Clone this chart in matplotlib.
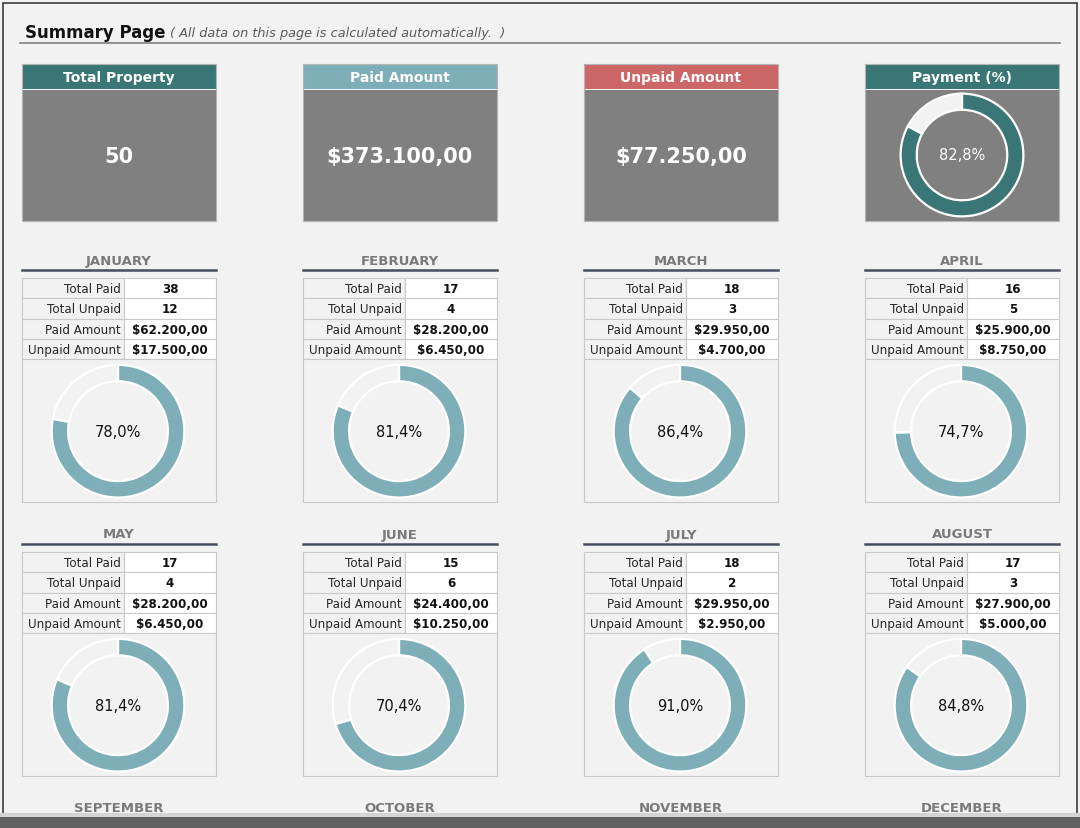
import matplotlib.pyplot as plt
from matplotlib.patches import Rectangle

W, H = 1080, 829

# ---- data ----
kpi_titles = ["Total Property", "Paid Amount", "Unpaid Amount", "Payment (%)"]
kpi_values = ["50", "$373.100,00", "$77.250,00"]
payment_pct = 82.8

months = ["JANUARY", "FEBRUARY", "MARCH", "APRIL",
          "MAY", "JUNE", "JULY", "AUGUST"]
total_paid = [38, 17, 18, 16, 17, 15, 18, 17]
total_unpaid = [12, 4, 3, 5, 4, 6, 2, 3]
paid_amount = [62200, 28200, 29950, 25900, 28200, 24400, 29950, 27900]
unpaid_amount = [17500, 6450, 4700, 8750, 6450, 10250, 2950, 5000]
paid_pct = [78.0, 81.4, 86.4, 74.7, 81.4, 70.4, 91.0, 84.8]
later_months = ["SEPTEMBER", "OCTOBER", "NOVEMBER", "DECEMBER"]

row_labels = ["Total Paid", "Total Unpaid", "Paid Amount", "Unpaid Amount"]

BG = "#f2f2f2"
DARK_TEAL = "#3b7676"
LIGHT_TEAL = "#7eafb8"
RED = "#cd6667"
CARD_GRAY = "#808080"
GRID = "#c9c9c9"

plt.rcParams['font.family'] = ['DejaVu Sans']


def money(v):
    s = f"{v:,.2f}"
    s = s.replace(",", "X").replace(".", ",").replace("X", ".")
    return "$" + s


def px_axes(fig, cx, cy, r):
    return fig.add_axes([(cx - r) / W, 1 - (cy + r) / H, 2 * r / W, 2 * r / H])


def donut(fig, cx, cy, r, pct, color, rest, ring, txt, txt_color, fs):
    a = px_axes(fig, cx, cy, r)
    a.pie([pct, 100 - pct], colors=[color, rest], startangle=90, counterclock=False,
          radius=0.99, wedgeprops=dict(width=ring, edgecolor="white", linewidth=1.6))
    a.set_xlim(-1.0, 1.0)
    a.set_ylim(-1.0, 1.0)
    a.set_aspect("equal")
    a.axis("off")
    a.text(0, 0, txt, ha="center", va="center", color=txt_color, fontsize=fs)


fig = plt.figure(figsize=(W / 100, H / 100), dpi=100)
fig.patch.set_facecolor(BG)
ax = fig.add_axes([0, 0, 1, 1])
ax.set_xlim(0, W)
ax.set_ylim(H, 0)
ax.axis("off")

# outer frame and bottom bars
ax.add_patch(Rectangle((3, 4), 1074, 812, fill=False, edgecolor="#3c3c3c", lw=1.2))
ax.add_patch(Rectangle((0, 814), W, 4, color="#d4d4d4", lw=0))
ax.add_patch(Rectangle((0, 818), W, 11, color="#616161", lw=0))

# title
t = ax.text(25, 33, "Summary Page", fontsize=12, fontweight="bold", va="center", color="#111111")
fig.canvas.draw()
bb = t.get_window_extent(renderer=fig.canvas.get_renderer())
ax.text(bb.x1 + 5, 33, "( All data on this page is calculated automatically.  )",
        fontsize=9.3, style="italic", va="center", color="#5a5a5a")
ax.plot([20, 1060], [43.5, 43.5], color="#7f7f7f", lw=1.2)

cols = [22, 303, 584, 865]
cw = 194

# KPI cards
head_colors = [DARK_TEAL, LIGHT_TEAL, RED, DARK_TEAL]
for i, x in enumerate(cols):
    ax.add_patch(Rectangle((x, 65), cw, 25, color=head_colors[i], lw=0))
    ax.add_patch(Rectangle((x, 91), cw, 131, color=CARD_GRAY, lw=0))
    ax.add_patch(Rectangle((x, 65), cw, 157, fill=False, edgecolor="#b5b5b5", lw=0.8))
    ax.text(x + cw / 2, 77.5, kpi_titles[i], color="white", fontsize=10,
            fontweight="bold", ha="center", va="center")
    if i < 3:
        ax.text(x + cw / 2, 157, kpi_values[i], color="white", fontsize=15,
                fontweight="bold", ha="center", va="center")

donut(fig, 962, 156, 62, payment_pct, DARK_TEAL, BG, 0.26,
      f"{payment_pct:.1f}%".replace(".", ","), "white", 10.5)

# monthly blocks
row_tops = [261, 535]
rh = 20.3
for k, m in enumerate(months):
    x = cols[k % 4]
    ty = row_tops[k // 4]
    ax.text(x + cw / 2, ty, m, color="#7a7a7a", fontsize=9.5, fontweight="bold",
            ha="center", va="center")
    ax.plot([x, x + cw], [ty + 9.5, ty + 9.5], color="#464f5e", lw=1.8)
    t0 = ty + 18
    vals = [str(total_paid[k]), str(total_unpaid[k]),
            money(paid_amount[k]), money(unpaid_amount[k])]
    for j in range(4):
        y0 = t0 + j * rh
        ax.add_patch(Rectangle((x, y0), 102, rh, facecolor=BG, edgecolor=GRID, lw=0.8))
        ax.add_patch(Rectangle((x + 102, y0), cw - 102, rh, facecolor="white",
                               edgecolor=GRID, lw=0.8))
        ax.text(x + 99, y0 + rh / 2 + 0.5, row_labels[j], fontsize=8.6,
                ha="right", va="center", color="#262626")
        ax.text(x + 102 + (cw - 102) / 2, y0 + rh / 2 + 0.5, vals[j], fontsize=8.6,
                fontweight="bold", ha="center", va="center", color="#111111")
    cy0 = t0 + 4 * rh
    ax.add_patch(Rectangle((x, cy0), cw, 143, facecolor=BG, edgecolor=GRID, lw=0.8))
    donut(fig, x + 96, cy0 + 72, 67, paid_pct[k], LIGHT_TEAL, BG, 0.245,
          f"{paid_pct[k]:.1f}%".replace(".", ","), "#111111", 10.5)

for i, m in enumerate(later_months):
    ax.text(cols[i] + cw / 2, 809, m, color="#7a7a7a", fontsize=9.5, fontweight="bold",
            ha="center", va="center")

fig.savefig("out.png", dpi=100, facecolor=BG)
